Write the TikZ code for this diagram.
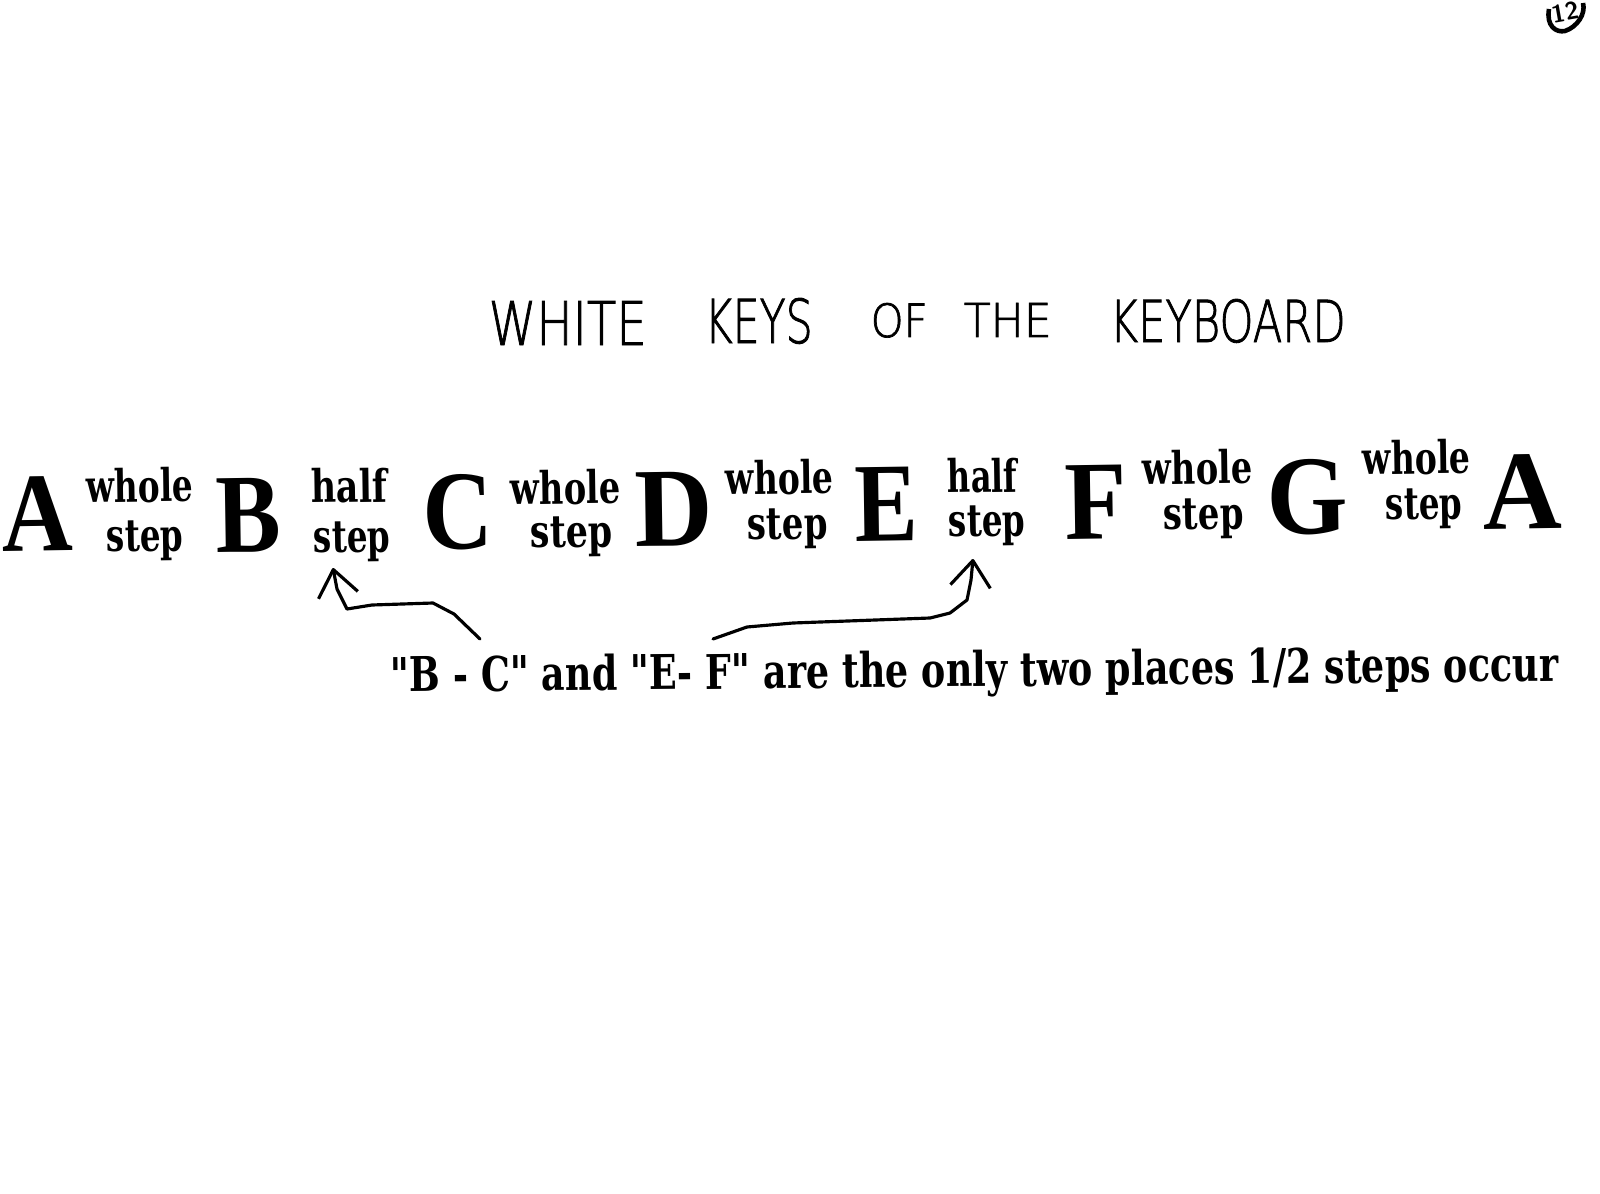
\documentclass[tikz,border=0pt]{standalone}
\usepackage{fontspec}
\usepackage{graphicx}
\usetikzlibrary{arrows.meta}
\setmainfont{Liberation Serif}
\newfontfamily\keyfont{Liberation Serif}
\newfontfamily\stepfont{DejaVu Serif}
\newfontfamily\handfont[FakeBold=1.6]{DejaVuSans-ExtraLight.ttf}
\newlength\pxu
\setlength\pxu{0.01cm}
\newcommand\fitw[2]{\resizebox{#1\pxu}{\height}{#2}}
\newcommand\fitwh[3]{\resizebox{#1\pxu}{#2\pxu}{#3}}

\tikzset{
	key/.style={inner sep=0pt, anchor=base west, rotate=0.85, font=\keyfont\bfseries\fontsize{32}{32}\selectfont},
	interval/.style={inner sep=0pt, anchor=base west, rotate=0.85, font=\stepfont\bfseries\fontsize{12.8}{12.8}\selectfont},
	hand/.style={inner sep=0pt, anchor=base west, font=\handfont\fontsize{17}{17}\selectfont},
	remark/.style={inner sep=0pt, anchor=base west, rotate=0.54, font=\stepfont\bfseries\fontsize{13.6}{13.6}\selectfont},
	pen/.style={line width=0.9pt, line join=round, line cap=round},
	barb/.style={-{Straight Barb[length=2.6mm,width=4mm,line join=round]}},
}

\begin{document}
\begin{tikzpicture}[x=0.01cm,y=-0.01cm]
	\useasboundingbox (0,0) rectangle (1600,1194);
	% Page Mark %
	\draw [line width=1.3pt] (1549,9) .. controls (1546,26) and (1556,33) .. (1565,31) .. controls (1577,27) and (1586,14) .. (1583,3);
	\node (pagemark) [inner sep=0pt, font=\sffamily\bfseries\fontsize{7}{7}\selectfont, rotate=10] at (1565,12) {12};
	% Title %
	\node (tWhite) [hand] at (488,345) {\fitwh{158}{44}{WHITE}};
	\node (tKeys) [hand] at (704,343) {\fitwh{108}{45}{KEYS}};
	\node (tOf) [hand] at (870,337) {\fitwh{57}{34}{OF}};
	\node (tThe) [hand] at (963,337) {\fitwh{88}{34}{THE}};
	\node (tKeyboard) [hand] at (1109,342) {\fitwh{236}{43}{KEYBOARD}};
	% White Keys %
	\node (keyA) [key] at (2,552) {\fitw{71}{A}};
	\node (keyB) [key] at (216,553) {\fitw{65}{B}};
	\node (keyC) [key] at (423,550) {\fitw{70}{C}};
	\node (keyD) [key] at (635,547) {\fitw{78}{D}};
	\node (keyE) [key] at (855,542) {\fitw{63}{E}};
	\node (keyF) [key] at (1065,540) {\fitw{62}{F}};
	\node (keyG) [key] at (1267,535) {\fitw{81}{G}};
	\node (keyAA) [key] at (1483,530) {\fitw{79}{A}};
	% Steps %
	\node (sizeAB) [interval] at (86,503) {\fitw{107}{whole}};
	\node (stepAB) [interval] at (106,552) {\fitw{77}{step}};
	\node (sizeBC) [interval] at (311,503) {\fitw{76}{half}};
	\node (stepBC) [interval] at (313,553) {\fitw{77}{step}};
	\node (sizeCD) [interval] at (510,505) {\fitw{110}{whole}};
	\node (stepCD) [interval] at (530,548) {\fitw{82}{step}};
	\node (sizeDE) [interval] at (725,495) {\fitw{108}{whole}};
	\node (stepDE) [interval] at (747,540) {\fitw{80}{step}};
	\node (sizeEF) [interval] at (947,493) {\fitw{70}{half}};
	\node (stepEF) [interval] at (948,537) {\fitw{77}{step}};
	\node (sizeFG) [interval] at (1142,485) {\fitw{110}{whole}};
	\node (stepFG) [interval] at (1163,530) {\fitw{80}{step}};
	\node (sizeGA) [interval] at (1362,475) {\fitw{108}{whole}};
	\node (stepGA) [interval] at (1385,520) {\fitw{77}{step}};
	% Remark %
	\node (remark) [remark] at (390,692) {\fitw{1168}{"B - C" and "E- F" are the only two places 1/2 steps occur}};
	% Arrows %
	\coordinate (fromBC) at (480,639);
	\coordinate (toBC) at (333,568);
	\coordinate (fromEF) at (713,639);
	\coordinate (toEF) at (973,559);
	\draw [pen,barb] (fromBC) -- ++(-26,-25) -- ++(-21,-11) -- ++(-61,2) -- ++(-25,4) -- ++(-10,-20) -- (toBC);
	\draw [pen,barb] (fromEF) -- ++(34,-12) -- ++(46,-4) -- ++(137,-5) -- ++(20,-5) -- ++(17,-13) -- ++(4,-20) -- (toEF);
\end{tikzpicture}
\end{document}
